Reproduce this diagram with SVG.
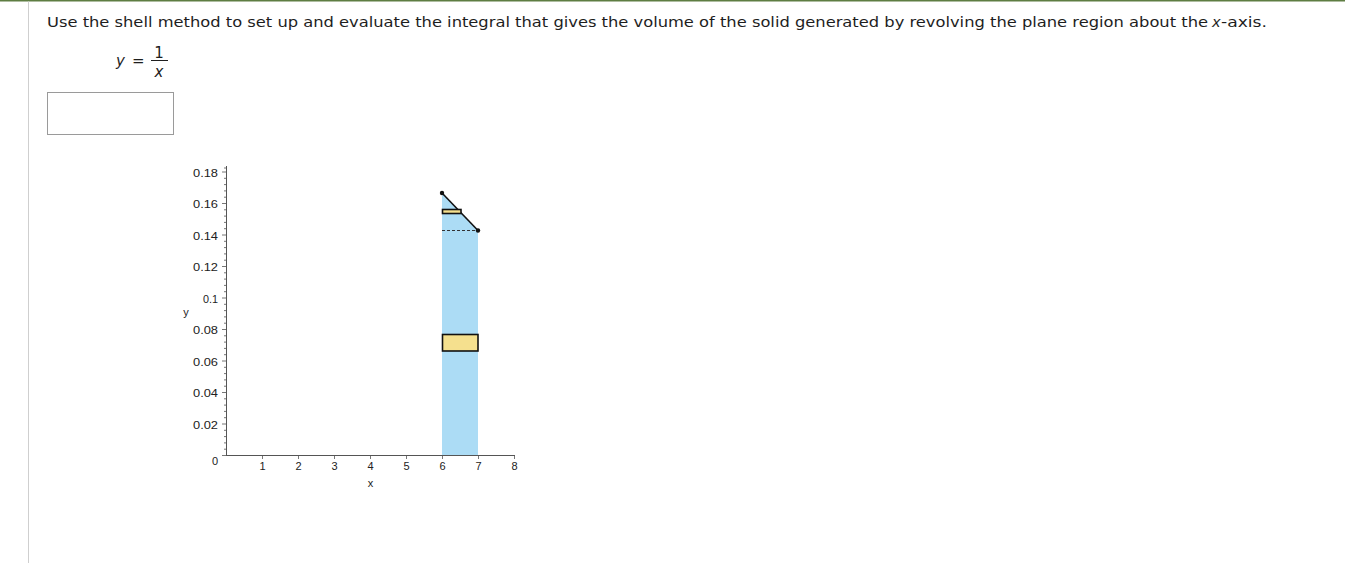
<svg xmlns="http://www.w3.org/2000/svg" width="1345" height="563" viewBox="0 0 1345 563">
<style>
.q{font-family:"DejaVu Sans",Verdana,sans-serif;font-size:14.6px;fill:#1e1e1e}
.m{font-family:"DejaVu Sans",Verdana,sans-serif;font-size:15px;fill:#1e1e1e}
.t{font-family:"Liberation Sans",Arial,sans-serif;font-size:11px;fill:#222}
.ax{stroke:#555;stroke-width:1;fill:none}
.tk{stroke:#777;stroke-width:1}
.sh{fill:#f5e08e;stroke:#111;stroke-width:1.6}
</style>
<rect width="1345" height="563" fill="#fff"/>
<rect x="0" y="0" width="1345" height="1.5" fill="#5e7d42"/>
<line x1="28.5" y1="1.5" x2="28.5" y2="563" stroke="#cfcfcf" stroke-width="1"/>
<g id="question">
<text class="q" x="47" y="27" textLength="1161" lengthAdjust="spacingAndGlyphs">Use the shell method to set up and evaluate the integral that gives the volume of the solid generated by revolving the plane region about the</text>
<text class="q" x="1212" y="27" font-style="italic">x</text>
<text class="q" x="1221" y="27" textLength="46" lengthAdjust="spacingAndGlyphs">-axis.</text>
</g>
<g id="formula">
<text class="m" x="116" y="66" font-style="italic">y</text>
<text class="m" x="132" y="66">=</text>
<text class="m" x="159" y="58" text-anchor="middle">1</text>
<line x1="151" y1="60.5" x2="168" y2="60.5" stroke="#1e1e1e" stroke-width="1"/>
<text class="m" x="159" y="77" text-anchor="middle" font-style="italic">x</text>
</g>
<g id="answer-box">
<rect x="47.5" y="92.5" width="126" height="42" fill="#fff" stroke="#9a9a9a" stroke-width="1"/>
</g>
<g id="region">
<polygon points="442,193 478,230.5 478,455.5 442,455.5" fill="#acdcf5"/>
</g>
<g id="connectors">
<line x1="442" y1="230.5" x2="478" y2="230.5" stroke="#333" stroke-width="1" stroke-dasharray="3,2"/>
<line x1="442" y1="193" x2="478" y2="230.5" stroke="#111" stroke-width="1.6"/>
</g>
<g id="shell-small"><rect class="sh" x="442.5" y="209.5" width="18.5" height="4"/></g>
<g id="shell-large"><rect class="sh" x="442.5" y="334.5" width="35.5" height="16.5"/></g>
<g id="points">
<circle cx="442" cy="193" r="2.2" fill="#111"/>
<circle cx="478" cy="230.5" r="2.2" fill="#111"/>
</g>
<g id="axes">
<line class="ax" x1="226.5" y1="166" x2="226.5" y2="456"/>
<line class="ax" x1="226" y1="455.5" x2="515" y2="455.5"/>
<path class="tk" d="M222 455.5h4M222 424h4M222 392.5h4M222 361h4M222 329.5h4M222 298h4M222 266.5h4M222 235h4M222 203.5h4M222 172h4
M224 449.2h2M224 442.9h2M224 436.6h2M224 430.3h2M224 417.7h2M224 411.4h2M224 405.1h2M224 398.8h2M224 386.2h2M224 379.9h2M224 373.6h2M224 367.3h2M224 354.7h2M224 348.4h2M224 342.1h2M224 335.8h2M224 323.2h2M224 316.9h2M224 310.6h2M224 304.3h2M224 291.7h2M224 285.4h2M224 279.1h2M224 272.8h2M224 260.2h2M224 253.9h2M224 247.6h2M224 241.3h2M224 228.7h2M224 222.4h2M224 216.1h2M224 209.8h2M224 197.2h2M224 190.9h2M224 184.6h2M224 178.3h2M224 168h2"/>
<path class="tk" d="M262.5 456v3M298.5 456v3M334.5 456v3M370.5 456v3M406.5 456v3M442.5 456v3M478.5 456v3M514.5 456v3"/>
</g>
<g id="y-labels">
<text class="t" x="193" y="176.5" textLength="25" lengthAdjust="spacingAndGlyphs">0.18</text>
<text class="t" x="193" y="208" textLength="25" lengthAdjust="spacingAndGlyphs">0.16</text>
<text class="t" x="193" y="239.5" textLength="25" lengthAdjust="spacingAndGlyphs">0.14</text>
<text class="t" x="193" y="271" textLength="25" lengthAdjust="spacingAndGlyphs">0.12</text>
<text class="t" x="203" y="302.5" textLength="15" lengthAdjust="spacingAndGlyphs">0.1</text>
<text class="t" x="193" y="334" textLength="25" lengthAdjust="spacingAndGlyphs">0.08</text>
<text class="t" x="193" y="365.5" textLength="25" lengthAdjust="spacingAndGlyphs">0.06</text>
<text class="t" x="193" y="397" textLength="25" lengthAdjust="spacingAndGlyphs">0.04</text>
<text class="t" x="193" y="428.5" textLength="25" lengthAdjust="spacingAndGlyphs">0.02</text>
<text class="t" x="218" y="465" text-anchor="end">0</text>
<text class="t" x="186" y="316" text-anchor="middle">y</text>
</g>
<g id="x-labels">
<text class="t" x="262.5" y="470" text-anchor="middle">1</text>
<text class="t" x="298.5" y="470" text-anchor="middle">2</text>
<text class="t" x="334.5" y="470" text-anchor="middle">3</text>
<text class="t" x="370.5" y="470" text-anchor="middle">4</text>
<text class="t" x="406.5" y="470" text-anchor="middle">5</text>
<text class="t" x="442.5" y="470" text-anchor="middle">6</text>
<text class="t" x="478.5" y="470" text-anchor="middle">7</text>
<text class="t" x="514.5" y="470" text-anchor="middle">8</text>
<text class="t" x="370.5" y="487" text-anchor="middle">x</text>
</g>
</svg>
